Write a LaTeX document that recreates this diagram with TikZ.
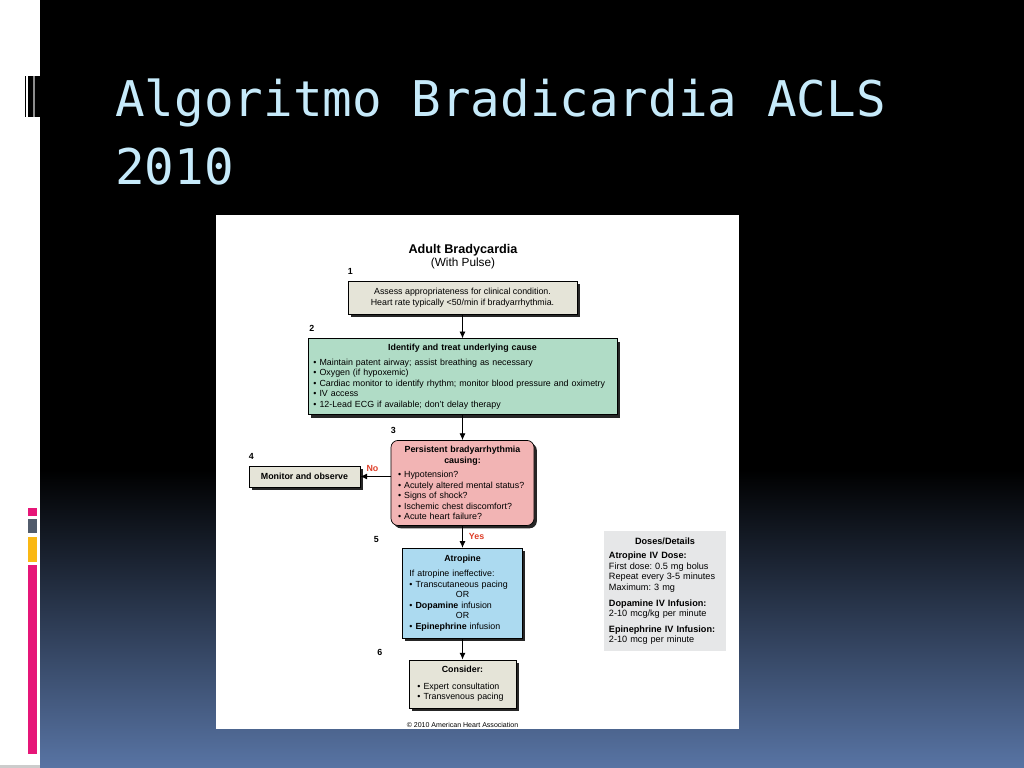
\documentclass[tikz,border=0pt]{standalone}
\usepackage{fontspec}
\setmainfont{Liberation Sans}
\newfontfamily\slidefont{DejaVu Sans Mono}
\usetikzlibrary{positioning, arrows.meta, shadows}

\definecolor{slideblue}{RGB}{88,116,164}
\definecolor{titlecyan}{RGB}{198,234,250}
\definecolor{boxbeige}{RGB}{229,228,216}
\definecolor{boxmint}{RGB}{176,220,198}
\definecolor{boxpink}{RGB}{242,180,180}
\definecolor{boxblue}{RGB}{172,218,240}
\definecolor{boxgray}{RGB}{230,231,232}
\definecolor{labred}{RGB}{222,62,40}
\definecolor{barmagenta}{RGB}{230,22,120}
\definecolor{bargray}{RGB}{82,92,108}
\definecolor{baryellow}{RGB}{250,184,20}

\newcommand{\flowfont}{\fontsize{6.3}{7.45}\selectfont}
\frenchspacing
\hyphenpenalty=10000
\exhyphenpenalty=10000

\begin{document}
\begin{tikzpicture}[
    x=0.025cm, y=-0.025cm,
    font=\flowfont,
    box/.style={draw, line width=0.5pt, inner ysep=2pt,
               drop shadow={shadow xshift=0.07cm, shadow yshift=-0.07cm,
                            fill=black!85, opacity=1}},
    num/.style={font=\flowfont\bfseries, inner sep=0pt},
    lab/.style={font=\flowfont\bfseries, text=labred, inner sep=0pt},
    ar/.style={-{Latex[length=1.7mm, width=1.5mm]}, line width=0.6pt},
    ttl/.style={font=\slidefont\fontsize{35}{42}\selectfont, text=titlecyan,
               inner sep=0pt, anchor=base west},
  ]
  % slide background
  \useasboundingbox (0,0) rectangle (1024,768);
  \fill[white] (0,0) rectangle (40,768);
  \fill[black!20] (0,765) rectangle (40,768);
  \fill[black] (40,0) rectangle (1024,470);
  \shade[top color=black, bottom color=slideblue] (40,470) rectangle (1024,768);

  % side bars
  \foreach \a/\b in {25/26, 27.7/28.5, 29.3/32.5, 34.5/40}
    \fill[black] (\a,76) rectangle (\b,117);
  \fill[black!45] (32.5,76) rectangle (34.5,117);
  \fill[barmagenta] (28,508) rectangle (37,516);
  \fill[bargray] (28,519) rectangle (37,533);
  \fill[baryellow] (28,537) rectangle (37,562);
  \fill[barmagenta] (28,565) rectangle (37,754);

  \node[ttl] (ttl1) at (115,117) {Algoritmo Bradicardia ACLS};
  \node[ttl] (ttl2) at (115,185) {2010};

  % chart
  \fill[white] (216,215) rectangle (739,729);

  \node[font=\fontsize{8.4}{9.2}\selectfont, align=center] (head) at (463,256.5)
    {{\fontsize{9}{9.2}\selectfont\bfseries Adult Bradycardia}\\(With Pulse)};

  \node[box, fill=boxbeige, align=center, minimum width=5.725cm,
        minimum height=0.825cm] (assess) at (462.5,297.5)
    {Assess appropriateness for clinical condition.\\
     Heart rate typically <50/min if bradyarrhythmia.};

  \node[box, fill=boxmint, below=0.6cm of assess, minimum width=7.725cm,
        minimum height=1.9cm, inner xsep=3.9pt, text width=7.45cm, align=left] (cause)
    {{\centering\bfseries Identify and treat underlying cause\par}\vspace{3pt}
     \textbullet\ Maintain patent airway; assist breathing as necessary\\
     \textbullet\ Oxygen (if hypoxemic)\\
     \textbullet\ Cardiac monitor to identify rhythm; monitor blood pressure and oximetry\\
     \textbullet\ IV access\\
     \textbullet\ 12-Lead ECG if available; don't delay therapy};

  \node[box, fill=boxpink, rounded corners=5pt, below=0.625cm of cause,
        minimum width=3.575cm, minimum height=2.125cm, inner xsep=5pt,
        text width=3.22cm, align=left] (causing)
    {{\centering\bfseries Persistent bradyarrhythmia\\causing:\par}\vspace{3pt}
     \textbullet\ Hypotension?\\
     \textbullet\ Acutely altered mental status?\\
     \textbullet\ Signs of shock?\\
     \textbullet\ Ischemic chest discomfort?\\
     \textbullet\ Acute heart failure?};

  \node[box, fill=boxbeige, font=\flowfont\bfseries, minimum width=2.775cm,
        minimum height=0.525cm] (monitor) at (304.5,476.5) {Monitor and observe};

  \node[box, fill=boxblue, below=0.55cm of causing, minimum width=3cm,
        minimum height=2.25cm, inner xsep=5pt, text width=2.65cm, align=left] (atropine)
    {{\centering\bfseries Atropine\par}\vspace{3pt}
     If atropine ineffective:\par
     \textbullet\ Transcutaneous pacing\par
     {\centering OR\par}
     \textbullet\ \textbf{Dopamine} infusion\par
     {\centering OR\par}
     \textbullet\ \textbf{Epinephrine} infusion};

  \node[box, fill=boxbeige, below=0.525cm of atropine, minimum width=2.675cm,
        minimum height=1.2cm, inner xsep=6pt, text width=2.25cm, align=left] (consider)
    {{\centering\bfseries Consider:\par}\vspace{4pt}
     \textbullet\ Expert consultation\\
     \textbullet\ Transvenous pacing};

  \node[fill=boxgray, font=\fontsize{6.5}{7.45}\selectfont, minimum width=3.05cm,
        minimum height=3cm, inner xsep=3.5pt, inner ysep=2pt, text width=2.8cm,
        align=left] (doses) at (665,591)
    {{\centering\bfseries Doses/Details\par}\vspace{3pt}
     \textbf{Atropine IV Dose:}\\
     First dose: 0.5 mg bolus\\
     Repeat every 3-5 minutes\\
     Maximum: 3 mg\par\vspace{4pt}
     \textbf{Dopamine IV Infusion:}\\
     2-10 mcg/kg per minute\par\vspace{3.5pt}
     \textbf{Epinephrine IV Infusion:}\\
     2-10 mcg per minute};

  \node[font=\fontsize{5}{6}\selectfont, below=2.3mm of consider] (aha)
    {\textcopyright\ 2010 American Heart Association};

  \node[num, above right=1.5mm and 0mm of assess.north west] (n1) {1};
  \node[num, above right=1.75mm and 0.4mm of cause.north west] (n2) {2};
  \node[num, above right=1.5mm and 0mm of causing.north west] (n3) {3};
  \node[num, above right=1.5mm and 0mm of monitor.north west] (n4) {4};
  \node[num, above left=1.25mm and 5.75mm of atropine.north west] (n5) {5};
  \node[num, above left=1mm and 6.5mm of consider.north west] (n6) {6};

  \draw[ar] (assess) -- (cause);
  \draw[ar] (cause) -- (causing);
  \draw[ar] (monitor -| causing.west) -- (monitor.east)
    node[lab, pos=0.6, above=1mm] (no) {No};
  \draw[ar] (causing) -- (atropine) node[lab, midway, right=1.5mm] (yes) {Yes};
  \draw[ar] (atropine) -- (consider);
\end{tikzpicture}
\end{document}
